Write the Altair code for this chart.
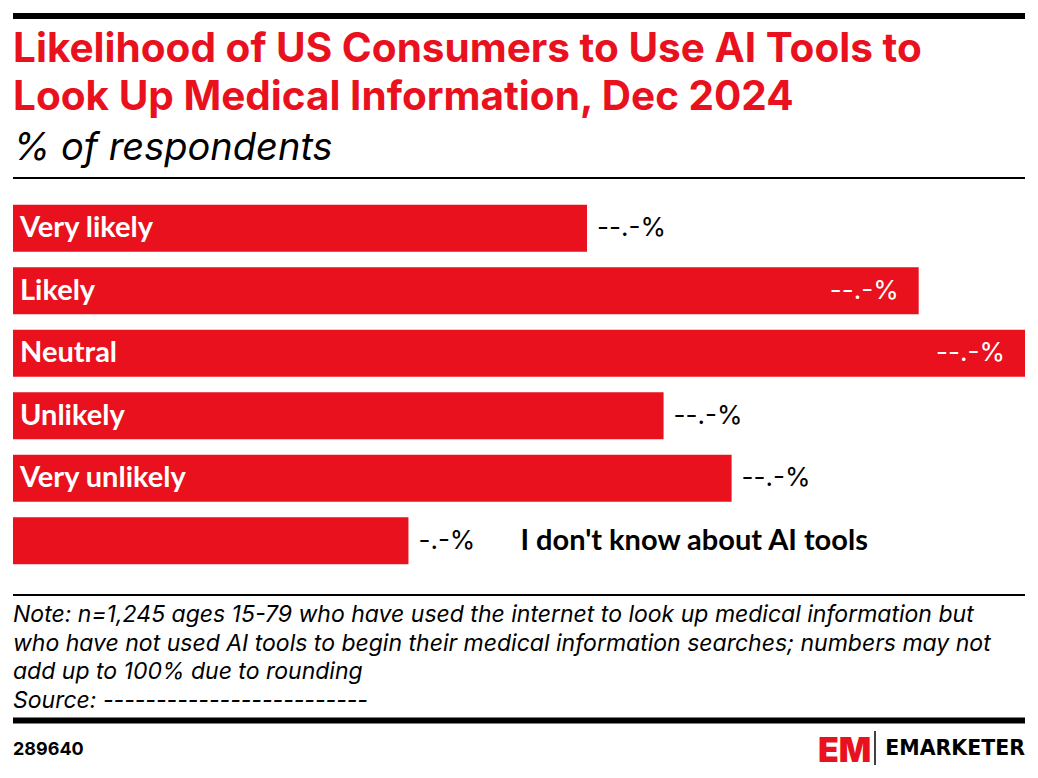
import altair as alt
import pandas as pd

categories = ["Very likely", "Likely", "Neutral", "Unlikely", "Very unlikely",
              "I don't know about AI tools"]
values = [13.5, 21.3, 23.8, 15.3, 16.9, 9.3]
value_labels = ["--.-%", "--.-%", "--.-%", "--.-%", "--.-%", "-.-%"]

title_lines = ["Likelihood of US Consumers to Use AI Tools to",
               "Look Up Medical Information, Dec 2024"]
subtitle = "% of respondents"
note_lines = [
    "Note: n=1,245 ages 15-79 who have used the internet to look up medical information but",
    "who have not used AI tools to begin their medical information searches; numbers may not",
    "add up to 100% due to rounding",
    "Source: -------------------------",
]
chart_id = "289640"
brand = "EMARKETER"

RED = "#E9111D"
W = 1012
H = 778

df = pd.DataFrame({"category": categories, "value": values, "label": value_labels})
df["inside"] = df["value"] > 20
df["outside_cat"] = df["category"] == categories[-1]

yenc = alt.Y("category:N", sort=categories,
             scale=alt.Scale(domain=categories, range=[197, 572],
                             paddingInner=0.25, paddingOuter=0.125),
             axis=None)
xenc = alt.X("value:Q", scale=alt.Scale(domain=[0, max(values)], nice=False, zero=True),
             axis=None)

base = alt.Chart(df)
bars = base.mark_bar(color=RED).encode(x=xenc, y=yenc)

cat_in = base.transform_filter("!datum.outside_cat").mark_text(
    align="left", baseline="middle", dx=7, color="white", font="Lato",
    fontWeight="bold", fontSize=29).encode(x=alt.value(0), y=yenc, text="category:N")

val_in = base.transform_filter("datum.inside").mark_text(
    align="right", baseline="middle", dx=-20, color="white", font="Inter",
    fontSize=26).encode(x=xenc, y=yenc, text="label:N")

val_out = base.transform_filter("!datum.inside").mark_text(
    align="left", baseline="middle", dx=10, color="black", font="Inter",
    fontSize=26).encode(x=xenc, y=yenc, text="label:N")

cat_out = base.transform_filter("datum.outside_cat").mark_text(
    align="left", baseline="middle", dx=112, color="black", font="Lato",
    fontWeight="bold", fontSize=29).encode(x=xenc, y=yenc, text="category:N")


def one(text):
    return alt.Chart(pd.DataFrame({"t": [text]}))


def rule(y, sw, x0=0, x1=W, color="black"):
    return one("").mark_rule(color=color, strokeWidth=sw).encode(
        x=alt.value(x0), x2=alt.value(x1), y=alt.value(y))


def txt(text, x, y, size, color="black", weight="normal", style="normal",
        align="left", font="Inter"):
    return one(text).mark_text(
        align=align, baseline="alphabetic", font=font, fontSize=size,
        fontWeight=weight, fontStyle=style, color=color).encode(
        x=alt.value(x), y=alt.value(y), text="t:N")


sep = one("").mark_rule(color="black", strokeWidth=1.5).encode(
    x=alt.value(862), y=alt.value(731), y2=alt.value(765))

layers = [
    rule(16, 6),
    txt(title_lines[0], 0, 62, 40.5, RED, "bold"),
    txt(title_lines[1], 0, 110, 40.5, RED, "bold"),
    txt(subtitle, 0, 160, 38, "black", "normal", "italic"),
    rule(178, 2),
    bars, cat_in, val_in, val_out, cat_out,
    rule(595, 2),
]
for i, line in enumerate(note_lines):
    layers.append(txt(line, 0, 622 + i * 28.5, 23, "black", "normal", "italic"))
layers += [
    rule(720.5, 6),
    txt(chart_id, 0, 755, 18, "black", "bold"),
    txt("EM", 805, 762, 34, RED, 900),
    sep,
    txt(brand, W, 755, 20.5, "black", "bold", align="right", font="DejaVu Sans"),
]

chart = alt.layer(*layers).properties(
    width=W, height=H,
    background="white",
    autosize=alt.AutoSizeParams(type="none"),
    padding={"left": 13, "right": 13, "top": 0, "bottom": 0},
).configure_view(stroke=None)

chart.save("out.html", embed_options={"renderer": "svg", "actions": False})
